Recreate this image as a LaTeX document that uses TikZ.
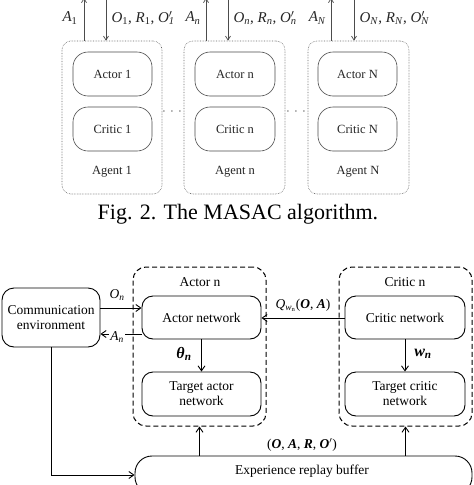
\documentclass[tikz,border=0pt]{standalone}
\usepackage{fontspec}
\setmainfont{Liberation Serif}
\usetikzlibrary{arrows.meta,calc}
\newcommand{\vsub}[3]{\textit{#1}\rlap{\textsuperscript{#3}}\textsubscript{\textit{#2}}}
\tikzset{
  agentbox/.style={draw=black!60, densely dotted, line width=0.6pt, rounded corners=9pt, minimum width=100pt, minimum height=153pt},
  innerbox/.style={draw=black!70, line width=0.6pt, rounded corners=15pt, minimum width=79pt, minimum height=44pt, font=\fontsize{12.5}{14}\selectfont, text=black!85},
  toptxt/.style={font=\fontsize{12.5}{14}\selectfont, text=black!85},
  lbltxt/.style={font=\fontsize{15}{17}\selectfont, text=black!85},
  tarr/.style={draw=black!70, line width=0.7pt, -{Straight Barb[length=4pt,width=5pt]}},
  netbox/.style={draw, line width=0.9pt, rounded corners=11pt, minimum width=119pt, minimum height=43pt, align=center, font=\fontsize{13.5}{15}\selectfont},
  grpbox/.style={draw, dashed, line width=1pt, dash pattern=on 5pt off 3pt, rounded corners=13pt, minimum width=133pt, minimum height=159pt},
  btxt/.style={font=\fontsize{13.5}{15}\selectfont},
  barr/.style={draw, line width=0.9pt, -{Straight Barb[length=5pt,width=7pt]}}
}
\begin{document}
\begin{tikzpicture}[x=1pt,y=-1pt]
\useasboundingbox[fill=white] (0,0) rectangle (474,485);
% ---------- top figure ----------
\node[agentbox] (ag1) at (112,117.5) {};
\node[agentbox, minimum width=101pt] (agn) at (234.5,117.5) {};
\node[agentbox, minimum width=101pt] (agN) at (358.5,117.5) {};
\node[innerbox] (act1) at (112.5,74) {Actor 1};
\node[innerbox] (cri1) at (112.5,129) {Critic 1};
\node[toptxt] (lab1) at (112,172) {Agent 1};
\node[innerbox, minimum width=80pt] (actn) at (235,74) {Actor n};
\node[innerbox, minimum width=80pt] (crin) at (235,129) {Critic n};
\node[toptxt] (labn) at (235,172) {Agent n};
\node[innerbox] (actN) at (357.5,74) {Actor N};
\node[innerbox] (criN) at (357.5,129) {Critic N};
\node[toptxt] (labN) at (358,172) {Agent N};
\node[toptxt] (dots1) at (172,112) {$\cdot\,\cdot\,\cdot$};
\node[toptxt] (dots2) at (296,112) {$\cdot\,\cdot\,\cdot$};
% arrows to/from agents
\coordinate (a1t) at (84,-2);
\coordinate (o1t) at (106,-2);
\coordinate (ant) at (206,-2);
\coordinate (ont) at (228,-2);
\coordinate (aNt) at (331,-2);
\coordinate (oNt) at (354,-2);
\draw[tarr] (a1t |- ag1.north) -- (a1t);
\draw[tarr] (o1t) -- (o1t |- ag1.north);
\draw[tarr] (ant |- agn.north) -- (ant);
\draw[tarr] (ont) -- (ont |- agn.north);
\draw[tarr] (aNt |- agN.north) -- (aNt);
\draw[tarr] (oNt) -- (oNt |- agN.north);
\node[lbltxt, anchor=east] (la1) at (81,18) {\textit{A}\textsubscript{1}};
\node[lbltxt, anchor=west] (lo1) at (108,18) {\textit{O}\textsubscript{1}, \textit{R}\textsubscript{1}, \vsub{O}{1}{$\prime$}};
\node[lbltxt, anchor=east] (lan) at (204,18) {\textit{A\textsubscript{n}}};
\node[lbltxt, anchor=west] (lon) at (230,18) {\textit{O}\textsubscript{\textit{n}}, \textit{R}\textsubscript{\textit{n}}, \vsub{O}{n}{$\prime$}};
\node[lbltxt, anchor=east] (laN) at (329,18) {\textit{A\textsubscript{N}}};
\node[lbltxt, anchor=west] (loN) at (356,18) {\textit{O}\textsubscript{\textit{N}}, \textit{R}\textsubscript{\textit{N}}, \vsub{O}{N}{$\prime$}};
\node[font=\fontsize{22}{24}\selectfont] (cap) at (238,214) {Fig. 2. The MASAC algorithm.};
% ---------- bottom figure ----------
\node[netbox, minimum width=98pt, minimum height=59pt, rounded corners=12pt] (env) at (51,317.5) {Communication\\environment};
\node[grpbox] (actbox) at (199.5,346.5) {};
\node[grpbox] (cribox) at (405.5,346.5) {};
\node[btxt] (actlab) at (200,282) {Actor n};
\node[btxt] (crilab) at (405,282) {Critic n};
\node[netbox] (actnet) at (201.5,317.5) {Actor network};
\node[netbox, minimum height=44pt] (tact) at (201.5,394) {Target actor\\network};
\node[netbox, minimum width=120pt] (crinet) at (405,317.5) {Critic network};
\node[netbox, minimum width=120pt, minimum height=44pt] (tcri) at (405,394) {Target critic\\network};
\node[draw, line width=0.9pt, rounded corners=17pt, minimum width=337pt, minimum height=38pt, btxt] (buf) at (303.5,475) {};
\node[btxt] (buftxt) at (302,471) {Experience replay buffer};
% connectors
\coordinate (yOn) at (0,308);
\coordinate (yAn) at (0,334);
\coordinate (yQ) at (0,318);
\draw[barr] (env.east |- yOn) -- (actnet.west |- yOn);
\node[btxt] (lOn) at (117,295) {\textit{O\textsubscript{n}}};
\draw[barr] (actnet.west |- yAn) -- (env.east |- yAn);
\node[btxt, fill=white, inner sep=1pt] (lAn) at (117,337) {\textit{A\textsubscript{n}}};
\draw[barr] (crinet.west |- yQ) -- (actnet.east |- yQ);
\node[btxt] (lQ) at (303,305) {\textit{Q}\textsubscript{\textit{w}\textsubscript{n}}(\textbf{\textit{O}}, \textbf{\textit{A}})};
\draw[barr] (actnet.south) -- (tact.north);
\node[btxt, font=\fontsize{16}{18}\selectfont] (lth) at (184,354) {\textbf{\textit{θ\textsubscript{n}}}};
\draw[barr] (crinet.south) -- (tcri.north);
\node[btxt, font=\fontsize{16}{18}\selectfont] (lw) at (423,354) {\textbf{\textit{w\textsubscript{n}}}};
\draw[barr] (buf.north -| actbox.south) -- (actbox.south);
\draw[barr] (buf.north -| cribox.south) -- (cribox.south);
\node[btxt] (lbuf) at (302,445) {(\textbf{\textit{O}}, \textbf{\textit{A}}, \textbf{\textit{R}}, \textbf{\textit{O}}\textsuperscript{$\prime$})};
\draw[barr] (env.south) |- (buf.west);
\end{tikzpicture}
\end{document}
